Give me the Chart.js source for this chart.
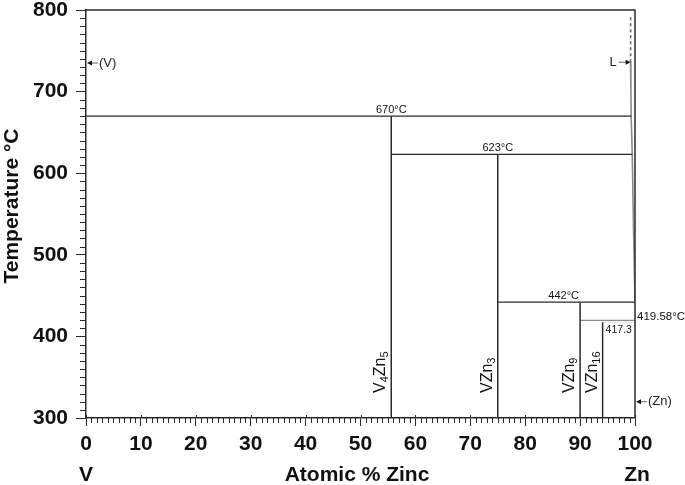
<!DOCTYPE html>
<html>
<head>
<meta charset="utf-8">
<title>V-Zn phase diagram</title>
<script src="https://cdn.jsdelivr.net/npm/chart.js@4.4.1/dist/chart.umd.min.js"></script>
<style>
  html, body { margin: 0; padding: 0; background: #fff; }
  #wrap { width: 685px; height: 485px; }
</style>
</head>
<body>
<div id="wrap"><canvas id="phaseChart"></canvas></div>
<script>
// ==========================================
// Data
// ==========================================

const xTicks = [0, 10, 20, 30, 40, 50, 60, 70, 80, 90, 100];
const yTicks = [300, 400, 500, 600, 700, 800];

// intermetallic compounds (vertical lines)
const compoundNames = ['V4Zn5', 'VZn3', 'VZn9', 'VZn16'];
const compoundX = [55.6, 75, 90, 94.1];
const compoundTop = [670, 623, 442, 417.3];

// invariant isotherms (horizontal lines)
const isothermT = [670, 623, 442];
const isothermFrom = [0, 55.6, 75];
const isothermTo = [99.3, 99.5, 100];
const isothermLabels = ['670°C', '623°C', '442°C'];
const isothermLabelX = [55.6, 75, 87];

// Zn melting line (drawn gray)
const zincMeltT = 419.58;
const zincMeltFrom = 90;

// liquidus hugging the Zn side
const liquidusX = [99.2, 99.25, 99.3, 99.5, 99.75, 100];
const liquidusT = [736, 700, 670, 623, 525, 442];
const liquidusDashX = [99.2, 99.2];
const liquidusDashT = [736, 792];

// single-phase markers
const markerNames = ['(V)', 'L', '(Zn)'];
const markerX = [0, 99.2, 100];
const markerT = [735, 736, 320];

// ==========================================
// Build datasets
// ==========================================

const DARK = '#2a2a2a';
const GRAY = '#8a8a8a';
const FONT = "'Liberation Sans', Arial, sans-serif";

function segment(x1, y1, x2, y2, color, width, dash) {
    return {
        data: [{ x: x1, y: y1 }, { x: x2, y: y2 }],
        borderColor: color,
        borderWidth: width,
        borderDash: dash || [],
        pointRadius: 0,
        showLine: true,
        fill: false,
        tension: 0
    };
}

const datasets = [];
isothermT.forEach((t, i) => {
    datasets.push(segment(isothermFrom[i], t, isothermTo[i], t, DARK, 1.3));
});
compoundX.forEach((x, i) => {
    datasets.push(segment(x, 300, x, compoundTop[i], DARK, 1.5));
});
datasets.push(segment(zincMeltFrom, zincMeltT, 100, zincMeltT, GRAY, 1.3));
datasets.push(segment(compoundX[3], 417.3, 100, 417.3, '#d5d5d5', 0.8));
datasets.push({
    data: liquidusX.map((x, i) => ({ x: x, y: liquidusT[i] })),
    borderColor: GRAY,
    borderWidth: 1.6,
    pointRadius: 0,
    showLine: true,
    fill: false,
    tension: 0
});
datasets.push(segment(liquidusDashX[0], liquidusDashT[0], liquidusDashX[1], liquidusDashT[1], '#666', 1.6, [3, 3]));

// ==========================================
// Annotation plugin: box, minor ticks, labels, arrows
// ==========================================

function drawCompound(ctx, name, x, yStart) {
    ctx.save();
    ctx.translate(x, yStart);
    ctx.rotate(-Math.PI / 2);
    ctx.fillStyle = '#111';
    ctx.textAlign = 'left';
    ctx.textBaseline = 'alphabetic';
    let pos = 0;
    const parts = name.match(/[A-Za-z]+|\d+/g);
    parts.forEach(p => {
        if (/\d/.test(p)) {
            ctx.font = `11px ${FONT}`;
            ctx.fillText(p, pos, 3);
        } else {
            ctx.font = `16px ${FONT}`;
            ctx.fillText(p, pos, 0);
        }
        pos += ctx.measureText(p).width;
    });
    ctx.restore();
}

function drawArrow(ctx, fromX, toX, y) {
    const dir = toX > fromX ? 1 : -1;
    ctx.save();
    ctx.strokeStyle = '#666';
    ctx.fillStyle = '#111';
    ctx.lineWidth = 1;
    ctx.beginPath();
    ctx.moveTo(fromX, y);
    ctx.lineTo(toX - dir * 4, y);
    ctx.stroke();
    ctx.beginPath();
    ctx.moveTo(toX, y);
    ctx.lineTo(toX - dir * 5, y - 2.5);
    ctx.lineTo(toX - dir * 5, y + 2.5);
    ctx.closePath();
    ctx.fill();
    ctx.restore();
}

const diagramPlugin = {
    id: 'diagram',
    afterDraw(chart) {
        const ctx = chart.ctx;
        const xs = chart.scales.x;
        const ys = chart.scales.y;
        const area = chart.chartArea;

        // frame top and right
        ctx.save();
        ctx.strokeStyle = DARK;
        ctx.lineWidth = 1.5;
        ctx.beginPath();
        ctx.moveTo(area.left, area.top);
        ctx.lineTo(area.right, area.top);
        ctx.lineTo(area.right, area.bottom);
        ctx.stroke();

        // minor ticks
        ctx.lineWidth = 1;
        ctx.beginPath();
        for (let v = 0; v <= 100; v++) {
            const px = Math.round(xs.getPixelForValue(v)) + 0.5;
            if (v % 10 === 0) {
                ctx.moveTo(px, area.bottom - 3);
                ctx.lineTo(px, area.bottom);
            } else {
                ctx.moveTo(px, area.bottom);
                ctx.lineTo(px, area.bottom + 5);
            }
        }
        for (let t = 300; t <= 800; t += 10) {
            if (t % 100 === 0) continue;
            const py = Math.round(ys.getPixelForValue(t)) + 0.5;
            ctx.moveTo(area.left, py);
            ctx.lineTo(area.left - 6, py);
        }
        ctx.stroke();
        ctx.restore();

        // isotherm labels
        ctx.save();
        ctx.fillStyle = '#111';
        ctx.font = `11px ${FONT}`;
        ctx.textAlign = 'center';
        ctx.textBaseline = 'bottom';
        isothermLabels.forEach((lab, i) => {
            ctx.fillText(lab, xs.getPixelForValue(isothermLabelX[i]), ys.getPixelForValue(isothermT[i]) - 1);
        });
        ctx.textAlign = 'left';
        ctx.textBaseline = 'middle';
        ctx.font = `11.5px ${FONT}`;
        ctx.fillText('419.58°C', area.right + 2, ys.getPixelForValue(zincMeltT) - 4);
        ctx.font = `10.5px ${FONT}`;
        ctx.textBaseline = 'top';
        ctx.fillText('417.3', xs.getPixelForValue(compoundX[3]) + 3, ys.getPixelForValue(417.3) + 3);
        ctx.restore();

        // compound labels
        compoundNames.forEach((name, i) => {
            drawCompound(ctx, name, xs.getPixelForValue(compoundX[i]) - 6, area.bottom - 25);
        });

        // phase markers with arrows
        ctx.save();
        ctx.fillStyle = '#222';
        ctx.font = `13px ${FONT}`;
        ctx.textBaseline = 'middle';
        const vx = xs.getPixelForValue(markerX[0]);
        const vy = ys.getPixelForValue(markerT[0]);
        drawArrow(ctx, vx + 12, vx + 1, vy);
        ctx.textAlign = 'left';
        ctx.fillText(markerNames[0], vx + 13, vy);

        const lx = xs.getPixelForValue(markerX[1]);
        const ly = ys.getPixelForValue(markerT[1]);
        drawArrow(ctx, lx - 12, lx, ly);
        ctx.textAlign = 'right';
        ctx.fillText(markerNames[1], lx - 14, ly);

        const zx = xs.getPixelForValue(markerX[2]);
        const zy = ys.getPixelForValue(markerT[2]);
        drawArrow(ctx, zx + 12, zx + 1, zy);
        ctx.textAlign = 'left';
        ctx.fillText(markerNames[2], zx + 13, zy);
        ctx.restore();

        // axis titles
        ctx.save();
        ctx.fillStyle = '#111';
        ctx.font = `bold 21px ${FONT}`;
        ctx.textAlign = 'center';
        ctx.textBaseline = 'middle';
        ctx.fillText('V', xs.getPixelForValue(0), 475);
        ctx.fillText('Zn', xs.getPixelForValue(100) + 2, 475);
        ctx.fillText('Atomic % Zinc', 357, 475);
        ctx.translate(12, 206);
        ctx.rotate(-Math.PI / 2);
        ctx.fillText('Temperature °C', 0, 0);
        ctx.restore();
    }
};

// ==========================================
// Chart
// ==========================================

new Chart(document.getElementById('phaseChart'), {
    type: 'scatter',
    data: { datasets: datasets },
    options: {
        responsive: true,
        maintainAspectRatio: false,
        animation: false,
        layout: { padding: { left: 0, right: 50, top: 10, bottom: 0 } },
        plugins: {
            legend: { display: false },
            tooltip: { enabled: false }
        },
        scales: {
            x: {
                type: 'linear',
                min: 0,
                max: 100,
                afterBuildTicks: s => { s.ticks = xTicks.map(v => ({ value: v })); },
                afterFit: s => {
                    s.height = 67;
                    s.paddingLeft = 0;
                    s.paddingRight = 0;
                },
                border: { color: DARK, width: 1.5 },
                grid: { drawOnChartArea: false, tickLength: 8, color: DARK, lineWidth: 1 },
                ticks: {
                    color: '#111',
                    padding: 6,
                    maxRotation: 0,
                    font: { family: FONT, size: 21, weight: 'bold' }
                }
            },
            y: {
                type: 'linear',
                min: 300,
                max: 800,
                afterBuildTicks: s => { s.ticks = yTicks.map(v => ({ value: v })); },
                afterFit: s => {
                    s.width = 86;
                    s.paddingTop = 0;
                    s.paddingBottom = 0;
                },
                border: { color: DARK, width: 1.5 },
                grid: { drawOnChartArea: false, tickLength: 10, color: DARK, lineWidth: 1 },
                ticks: {
                    color: '#111',
                    padding: 8,
                    font: { family: FONT, size: 21, weight: 'bold' }
                }
            }
        }
    },
    plugins: [diagramPlugin]
});
</script>
</body>
</html>
